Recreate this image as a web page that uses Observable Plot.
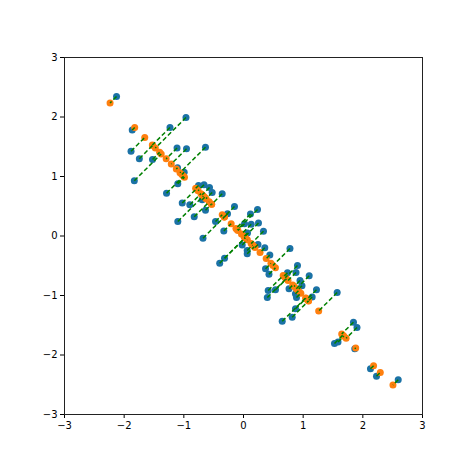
<!DOCTYPE html>
<html><head><meta charset="utf-8">
<script src="https://cdn.jsdelivr.net/npm/d3@7"></script>
<script src="https://cdn.jsdelivr.net/npm/@observablehq/plot@0.6"></script>
<style>body{margin:0;background:#fff}</style>
</head><body><div id="chart"></div>
<script>
// Original (blue) points
const xs = [-2.128,-1.865,-1.232,-0.964,-1.885,-1.746,-1.525,-1.114,-0.955,-0.637,
  -1.830,-1.106,-0.994,-1.101,-1.290,-0.754,-0.662,-0.570,-0.525,-0.357,
  -0.692,-1.027,-0.900,-0.637,-0.826,-1.101,-0.469,-0.151,-0.268,-0.330,
  -0.679,0.117,0.235,0.017,0.129,0.251,0.335,0.067,-0.022,0.062,
  0.062,0.243,0.357,0.441,0.779,-0.318,-0.399,0.369,0.427,0.905,
  0.737,0.880,1.101,0.947,0.980,0.871,0.888,1.151,1.223,0.414,
  0.536,0.399,0.763,0.871,0.816,0.649,1.570,1.843,1.902,1.525,
  1.584,1.865,2.128,2.229,2.593];
const ys = [2.345,1.782,1.824,1.992,1.425,1.299,1.286,1.479,1.466,1.492,
  0.929,1.146,1.072,0.877,0.719,0.849,0.861,0.815,0.731,0.709,
  0.608,0.555,0.524,0.434,0.323,0.244,0.244,0.496,0.373,0.084,
  -0.037,0.370,0.445,0.205,0.197,0.218,0.079,0.050,-0.151,-0.244,
  -0.299,-0.143,-0.198,-0.319,-0.210,-0.373,-0.457,-0.551,-0.644,-0.496,
  -0.617,-0.613,-0.669,-0.748,-0.837,-0.971,-1.034,-1.025,-0.903,-0.916,
  -0.904,-1.034,-0.887,-1.224,-1.365,-1.434,-0.950,-1.449,-1.538,-1.807,
  -1.782,-1.896,-2.232,-2.356,-2.417];
// principal direction used for the projection (orange points)
const component = [-Math.SQRT1_2, Math.SQRT1_2];
const tickValues = [-3,-2,-1,0,1,2,3];

const points = xs.map((x, i) => ({x, y: ys[i]}));
const projected = points.map(p => {
  const t = p.x * component[0] + p.y * component[1];
  return {x: t * component[0], y: t * component[1], x0: p.x, y0: p.y};
});
const fmt = d => String(d).replace("-", "\u2212");

const chart = Plot.plot({
  width: 474, height: 474,
  marginLeft: 64, marginRight: 52, marginTop: 57, marginBottom: 60,
  style: {fontFamily: "DejaVu Sans", fontSize: "10px", background: "white", color: "#000"},
  x: {domain: [-3, 3], ticks: tickValues, tickFormat: fmt, label: null, tickSize: 4, tickPadding: 3},
  y: {domain: [-3, 3], ticks: tickValues, tickFormat: fmt, label: null, tickSize: 4, tickPadding: 3},
  marks: [
    Plot.dot(points, {x: "x", y: "y", r: 3.5, fill: "#1b72a6"}),
    Plot.dot(projected, {x: "x", y: "y", r: 3.5, fill: "#ff7f0e"}),
    Plot.link(projected, {x1: "x0", y1: "y0", x2: "x", y2: "y", stroke: "green", strokeDasharray: "4.5,2.5", strokeWidth: 1.5}),
    Plot.frame({stroke: "#222"})
  ]
});
document.getElementById("chart").append(chart);
</script>
</body></html>
